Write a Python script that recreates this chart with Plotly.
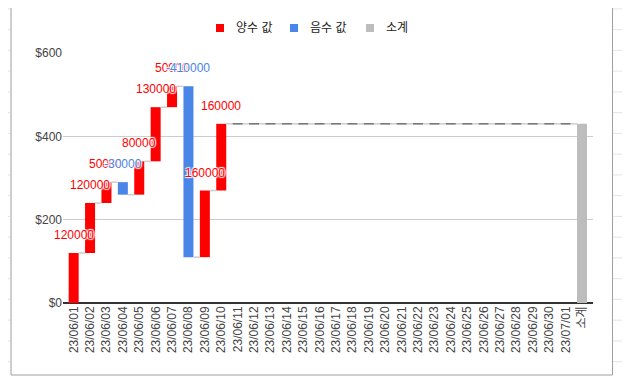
import plotly.graph_objects as go

# ---------------- data ----------------
dates = ["23/06/01", "23/06/02", "23/06/03", "23/06/04", "23/06/05", "23/06/06",
         "23/06/07", "23/06/08", "23/06/09", "23/06/10", "23/06/11", "23/06/12",
         "23/06/13", "23/06/14", "23/06/15", "23/06/16", "23/06/17", "23/06/18",
         "23/06/19", "23/06/20", "23/06/21", "23/06/22", "23/06/23", "23/06/24",
         "23/06/25", "23/06/26", "23/06/27", "23/06/28", "23/06/29", "23/06/30",
         "23/07/01"]
subtotal_label = "소계"
changes = [120, 120, 50, -30, 80, 130, 50, -410, 160, 160,
           0, 0, 0, 0, 0, 0, 0, 0, 0, 0, 0, 0, 0, 0, 0, 0, 0, 0, 0, 0, 0]
value_labels = ["120000", "120000", "50000", "-30000", "80000", "130000",
                "50000", "-410000", "160000", "160000"]
series_names = ["양수 값", "음수 값", "소계"]
y_ticks = [0, 200, 400, 600]
y_tick_labels = ["$0", "$200", "$400", "$600"]

# ---------------- styles ----------------
RED = "#ff0000"
BLUE = "#4a86e8"
GRAY = "#bdbdbd"
FONT = "Liberation Sans, Arial, Noto Sans CJK KR, sans-serif"
BAR_W = 0.61

OFF = 8  # the page body adds an 8px margin
W, H = 630 - OFF, 376 - OFF
# plot area in page pixels
PL, PR, PT, PB = 63, 593, 53, 303
ML, MT = PL - OFF, PT - OFF
MR, MB = 630 - PR, 376 - PB

categories = dates + [subtotal_label]
n = len(dates)

# running totals
starts, ends = [], []
total = 0
for v in changes:
    starts.append(total)
    total += v
    ends.append(total)

pos_x, pos_base, pos_h = [], [], []
neg_x, neg_base, neg_h = [], [], []
for i, v in enumerate(changes):
    if v > 0:
        pos_x.append(i); pos_base.append(starts[i]); pos_h.append(v)
    elif v < 0:
        neg_x.append(i); neg_base.append(ends[i]); neg_h.append(-v)

fig = go.Figure()

# connectors between bars (light gray)
cx, cy = [], []
for i in range(n):
    cx += [i + BAR_W / 2, i + 1 - BAR_W / 2, None]
    cy += [ends[i], ends[i], None]
fig.add_trace(go.Scatter(x=cx, y=cy, mode="lines", line=dict(color="#d0d0d0", width=1.6),
                         hoverinfo="skip", showlegend=False))
# zero-change categories drawn as flat dark segments
zx, zy = [], []
for i, v in enumerate(changes):
    if v == 0:
        zx += [i - BAR_W / 2, i + BAR_W / 2, None]
        zy += [ends[i], ends[i], None]
fig.add_trace(go.Scatter(x=zx, y=zy, mode="lines", line=dict(color="#757575", width=1.6),
                         hoverinfo="skip", showlegend=False))

fig.add_trace(go.Bar(x=pos_x, y=pos_h, base=pos_base, width=BAR_W, name=series_names[0],
                     marker=dict(color=RED, line=dict(width=0)), showlegend=False))
fig.add_trace(go.Bar(x=neg_x, y=neg_h, base=neg_base, width=BAR_W, name=series_names[1],
                     marker=dict(color=BLUE, line=dict(width=0)), showlegend=False))
fig.add_trace(go.Bar(x=[n], y=[total], base=[0], width=BAR_W, name=series_names[2],
                     marker=dict(color=GRAY, line=dict(width=0)), showlegend=False))

# data labels above the upper end of each bar
halo = "1px 1px 1px #fff, -1px -1px 1px #fff, 1px -1px 1px #fff, -1px 1px 1px #fff"
for i, lab in enumerate(value_labels):
    top = max(starts[i], ends[i])
    col = RED if changes[i] > 0 else BLUE
    fig.add_annotation(x=i, y=top, text=lab, showarrow=False, xref="x", yref="y",
                       yanchor="middle", yshift=18,
                       font=dict(family=FONT, size=12, color=col, shadow=halo))

# helpers: page pixel -> paper fraction
pw, ph = PR - PL, PB - PT
def px_x(p):
    return (p - PL) / pw
def px_y(p):
    return (PB - p) / ph

shapes = []
# spreadsheet backdrop rows and chart frame
row = 8.9
while row < 376:
    for x0, x1 in [(0, 10), (613, 630)]:
        shapes.append(dict(type="line", xref="paper", yref="paper",
                           x0=px_x(x0), x1=px_x(x1), y0=px_y(row), y1=px_y(row),
                           line=dict(color="#e3e3e3", width=1), layer="below"))
    row += 20.75
shapes.append(dict(type="rect", xref="paper", yref="paper",
                   x0=px_x(11), x1=px_x(612.5), y0=px_y(375), y1=px_y(4),
                   line=dict(color="#9e9e9e", width=1), fillcolor="rgba(0,0,0,0)",
                   layer="below"))

# legend (drawn manually to match the compact layout)
legend_colors = [RED, BLUE, GRAY]
legend_sq_x = [216, 290, 366]
LEG_Y = 28
for name, colr, sx in zip(series_names, legend_colors, legend_sq_x):
    shapes.append(dict(type="rect", xref="paper", yref="paper",
                       x0=px_x(sx), x1=px_x(sx + 8), y0=px_y(LEG_Y + 4), y1=px_y(LEG_Y - 4),
                       line=dict(width=0), fillcolor=colr))
    fig.add_annotation(x=px_x(sx + 18), y=px_y(LEG_Y), xref="paper", yref="paper",
                       text=name, showarrow=False, xanchor="left", yanchor="middle",
                       font=dict(family=FONT, size=12, color="#222"))

fig.update_layout(
    width=W, height=H,
    margin=dict(l=ML, r=MR, t=MT, b=MB, autoexpand=False),
    paper_bgcolor="white", plot_bgcolor="white",
    barmode="overlay",
    font=dict(family=FONT, size=12, color="#444"),
    shapes=shapes,
    showlegend=False,
    xaxis=dict(range=[-0.65, n + 0.67], tickmode="array", automargin=False,
               tickvals=list(range(len(categories))), ticktext=categories,
               tickangle=-90, showgrid=False, zeroline=False,
               showline=False, ticks="", tickfont=dict(size=12, color="#444")),
    yaxis=dict(range=[0, 600], tickmode="array", tickvals=y_ticks, ticktext=y_tick_labels,
               automargin=False,
               showgrid=True, gridcolor="#cccccc", gridwidth=1,
               zeroline=True, zerolinecolor="#333333", zerolinewidth=1.5,
               showline=False, ticks="", tickfont=dict(size=12, color="#444")),
)

fig.write_html("out.html")
